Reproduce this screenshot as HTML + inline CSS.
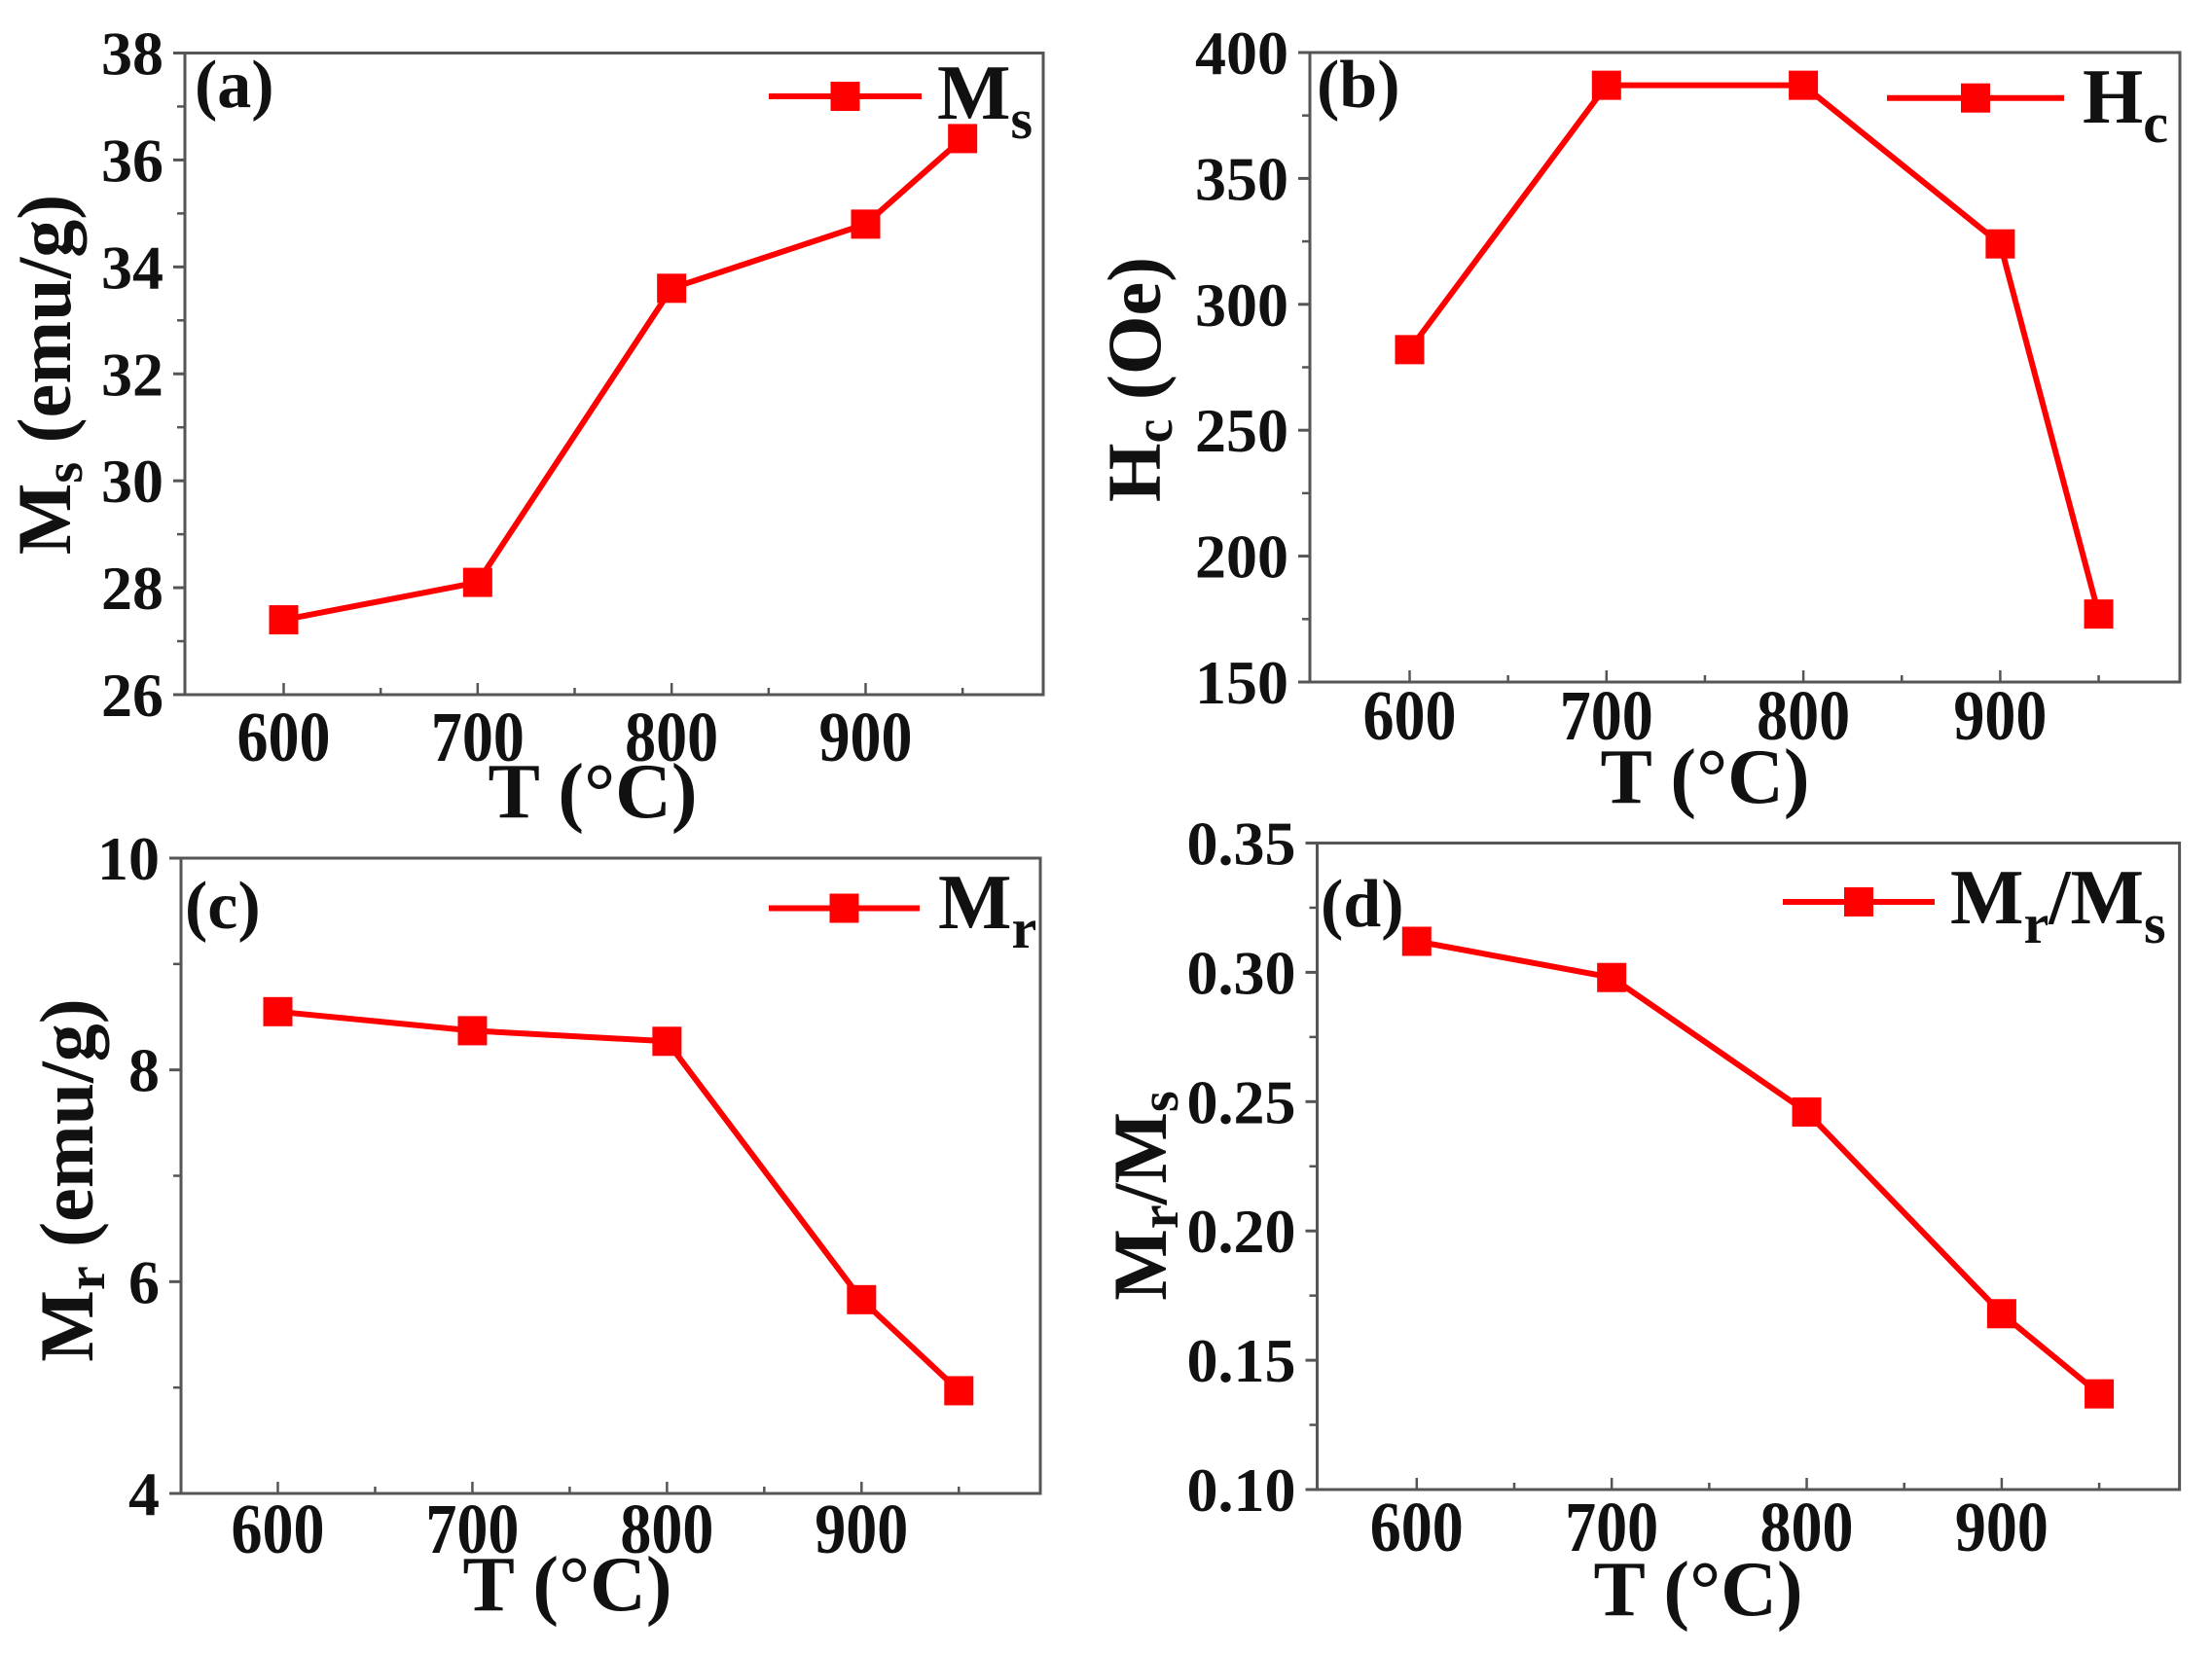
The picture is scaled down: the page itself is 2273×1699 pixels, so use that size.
<!DOCTYPE html>
<html><head><meta charset="utf-8"><style>
html,body{margin:0;padding:0;background:#fff;}
svg{display:block;font-family:"Liberation Serif",serif;font-weight:bold;}
</style></head><body>
<svg id="fig" width="2273" height="1699" viewBox="0 0 2273 1699" xmlns="http://www.w3.org/2000/svg"></svg>
<script>
const temps = [600, 700, 800, 900, 950];
const xTicks = [600, 700, 800, 900];
const msValues = [27.4, 28.1, 33.6, 34.8, 36.4];
const hcValues = [282, 387, 387, 324, 177];
const mrValues = [8.55, 8.37, 8.27, 5.83, 4.97];
const ratioValues = [0.312, 0.298, 0.246, 0.168, 0.137];
const msTicks = [26, 28, 30, 32, 34, 36, 38];
const hcTicks = [150, 200, 250, 300, 350, 400];
const mrTicks = [4, 6, 8, 10];
const ratioTicks = ["0.10", "0.15", "0.20", "0.25", "0.30", "0.35"];

const NS = "http://www.w3.org/2000/svg";
const svg = document.getElementById("fig");
function mk(tag, attrs, parent){const e=document.createElementNS(NS,tag);for(const k in attrs)e.setAttribute(k,attrs[k]);(parent||svg).appendChild(e);return e;}

const panels = [
 {id:"a", vals:msValues, ticks:msTicks, box:[190,54.5,1072,714], x600:291.5, x900:889.5,
  tickLblBase:782, xTitle:[609,840], yTitle:[72,385], yMain:"M", ySub:"s", yRest:" (emu/g)",
  label:[200,110], leg:[790,947,99], legText:[963,122], legMain:"M", legSub:"s", legRest:""},
 {id:"b", vals:hcValues, ticks:hcTicks, box:[1346,54,2240,701], x600:1448.5, x900:2055.4,
  tickLblBase:760, xTitle:[1752,825], yTitle:[1192,390], yMain:"H", ySub:"c", yRest:" (Oe)",
  label:[1353,110], leg:[1939,2121,100.7], legText:[2140,126], legMain:"H", legSub:"c", legRest:""},
 {id:"c", vals:mrValues, ticks:mrTicks, box:[186,882,1069,1535], x600:285.5, x900:885.3,
  tickLblBase:1596, xTitle:[583,1655], yTitle:[95,1213], yMain:"M", ySub:"r", yRest:" (emu/g)",
  label:[190,954], leg:[790,945,933.5], legText:[964,954], legMain:"M", legSub:"r", legRest:""},
 {id:"d", vals:ratioValues, ticks:ratioTicks, box:[1353.5,866.5,2239.6,1531], x600:1455.8, x900:2056.9,
  tickLblBase:1594, xTitle:[1745,1660], yTitle:[1198,1229], yMain:"M", ySub:"r", yRest:"/M", ySub2:"s",
  label:[1357,952], leg:[1832,1988,927], legText:[2004,949], legMain:"M", legSub:"r", legRest:"/M", legSub2:"s"}
];

panels.forEach(p=>{
  const g = mk("g",{});
  
  
  const [L,T,R,B] = p.box;
  const tv = p.ticks.map(Number);
  const ymin = tv[0], ymax = tv[tv.length-1];
  const sx = v => p.x600 + (v-600)*(p.x900-p.x600)/300;
  const sy = v => B - (v-ymin)*(B-T)/(ymax-ymin);
  const fr = mk("rect",{x:L,y:T,width:R-L,height:B-T,fill:"none",stroke:"#555","stroke-width":3},g);
  
  
  tv.forEach((v,i)=>{
    const y=sy(v);
    mk("line",{x1:L-12,x2:L,y1:y,y2:y,stroke:"#555","stroke-width":3},g);
    const t=mk("text",{x:L-22,y:y+22,"text-anchor":"end","font-size":64,fill:"#111"},g);
    t.textContent=p.ticks[i];
    
    
    if(i<tv.length-1){const ym=sy((v+tv[i+1])/2);mk("line",{x1:L-8,x2:L,y1:ym,y2:ym,stroke:"#555","stroke-width":2.5},g);}
  });
  [600,650,700,750,800,850,900,950].forEach(v=>{
    const x=sx(v);
    mk("line",{x1:x,x2:x,y1:B,y2:B-(xTicks.includes(v)?12:7),stroke:"#555","stroke-width":2.5},g);
  });
  xTicks.forEach(v=>{
    const t=mk("text",{x:sx(v),y:p.tickLblBase,"text-anchor":"middle","font-size":64,fill:"#111",transform:`translate(0 ${p.tickLblBase}) scale(1 1.15) translate(0 ${-p.tickLblBase})`},g);
    t.textContent=v;
    
    
  });
  const xt=mk("text",{x:p.xTitle[0],y:p.xTitle[1],"text-anchor":"middle","font-size":80,fill:"#111"},g);
  xt.textContent="T (°C)";
  
  
  const yt=mk("text",{x:0,y:0,"text-anchor":"middle","font-size":78,fill:"#111",transform:`translate(${p.yTitle[0]} ${p.yTitle[1]}) rotate(-90)`},g);
  
  
  let s=mk("tspan",{},yt);s.textContent=p.yMain;
  s=mk("tspan",{"font-size":56,dy:12},yt);s.textContent=p.ySub;
  s=mk("tspan",{dy:-12},yt);s.textContent=p.yRest;
  if(p.ySub2){s=mk("tspan",{"font-size":56,dy:12},yt);s.textContent=p.ySub2;}
  const pl=mk("text",{x:p.label[0],y:p.label[1],"font-size":70,fill:"#111"},g);
  pl.textContent="("+p.id+")";
  
  
  const pts=p.vals.map((v,i)=>sx(temps[i])+","+sy(v)).join(" ");
  const pl2=mk("polyline",{points:pts,fill:"none",stroke:"#ff0000","stroke-width":6,"stroke-linejoin":"round"},g);
  
  
  p.vals.forEach((v,i)=>{
    const r=mk("rect",{x:sx(temps[i])-15,y:sy(v)-15,width:30,height:30,fill:"#ff0000"},g);
    
    
  });
  const lg=mk("g",{},g);
  
  
  const [lx1,lx2,ly]=p.leg;
  mk("line",{x1:lx1,x2:lx2,y1:ly,y2:ly,stroke:"#ff0000","stroke-width":6},lg);
  mk("rect",{x:(lx1+lx2)/2-15,y:ly-15,width:30,height:30,fill:"#ff0000"},lg);
  const lt=mk("text",{x:p.legText[0],y:p.legText[1],"font-size":80,fill:"#111"},lg);
  s=mk("tspan",{},lt);s.textContent=p.legMain;
  s=mk("tspan",{"font-size":58,dy:20},lt);s.textContent=p.legSub;
  if(p.legRest){s=mk("tspan",{dy:-20},lt);s.textContent=p.legRest;}
  if(p.legSub2){s=mk("tspan",{"font-size":58,dy:20},lt);s.textContent=p.legSub2;}
});
</script>
</body></html>
